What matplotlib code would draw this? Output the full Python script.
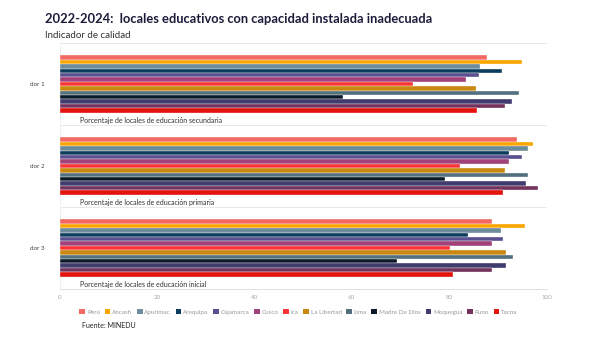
import matplotlib
matplotlib.use("Agg")
import matplotlib.pyplot as plt
from matplotlib.patches import Patch
import numpy as np

plt.rcParams['font.family'] = ['Lato', 'DejaVu Sans']

regions = ["Perú", "Ancash", "Apurimac", "Arequipa", "Cajamarca", "Cusco", "Ica",
           "La Libertad", "Lima", "Madre De Dios", "Moquegua", "Puno", "Tacna"]
colors = ["#F26A63", "#F9A602", "#6C8C9B", "#0C3D5E", "#5A4F91", "#A2427B", "#FA3434",
          "#C9880F", "#53707F", "#0B1A29", "#413C6E", "#74325C", "#E3130D"]
categories = ["Indicador 1", "Indicador 2", "Indicador 3"]
cat_labels = ["dor 1", "dor 2", "dor 3"]
subtitles = ["Porcentaje de locales de educación secundaria",
             "Porcentaje de locales de educación primaria",
             "Porcentaje de locales de educación inicial"]

ind1 = [87.8, 94.9, 86.4, 90.8, 86.2, 83.5, 72.6, 85.6, 94.4, 58.3, 92.9, 91.5, 85.7]
ind2 = [94.0, 97.3, 96.1, 92.2, 95.0, 92.3, 82.2, 91.5, 96.1, 79.1, 95.8, 98.2, 91.1]
ind3 = [88.9, 95.6, 90.6, 83.8, 91.1, 88.9, 80.1, 91.7, 93.2, 69.4, 91.6, 88.9, 80.8]
values = np.array([ind1, ind2, ind3])  # shape (cat, region)

fig = plt.figure(figsize=(6.0, 3.38), dpi=100)
W, H = 600, 338
x0, x1 = 59.5, 546.5
ytop, ybot = 43, 289
ax = fig.add_axes([x0 / W, 1 - ybot / H, (x1 - x0) / W, (ybot - ytop) / H])

n = len(regions)
group_w = 0.70
bw = group_w / n
for j in range(n):
    ys = np.arange(len(categories)) - group_w / 2 + bw * (j + 0.5)
    ax.barh(ys, values[:, j], height=bw, color=colors[j], edgecolor='white',
            linewidth=0.25, label=regions[j], zorder=3)

ax.set_ylim(2.5, -0.5)
ax.set_xlim(0, 100)
ax.set_yticks(range(len(categories)))
ax.set_yticklabels(cat_labels, fontsize=4.5, color='#444444')
ax.set_xticks([0, 20, 40, 60, 80, 100])
ax.set_xticklabels(["0", "20", "40", "60", "80", "100"], fontsize=4.5, color='#aaaaaa')
ax.tick_params(axis='x', length=0, pad=4)
ax.tick_params(axis='y', length=0, pad=11)

for b in [-0.5, 0.5, 1.5]:
    ax.axhline(b, color='#e8e8e8', linewidth=0.7, zorder=1)
for s in ['top', 'right']:
    ax.spines[s].set_visible(False)
ax.spines['bottom'].set_color('#e0e0e0')
ax.spines['bottom'].set_linewidth(0.7)
ax.spines['left'].set_color('#f0f0f0')
ax.spines['left'].set_linewidth(0.7)

for i, t in enumerate(subtitles):
    ax.text(4.2, i + 0.44, t, fontsize=5, color='#333333', va='center', ha='left')

fig.text(45 / W, 1 - 19 / H, "2022-2024:  locales educativos con capacidad instalada inadecuada",
         fontsize=9.3, fontweight='bold', color='#1b1b3a', va='center', ha='left')
fig.text(45 / W, 1 - 35 / H, "Indicador de calidad", fontsize=7, color='#333333',
         va='center', ha='left')

handles = [Patch(facecolor=c, edgecolor='none') for c in colors]
fig.legend(handles, regions, loc='center', bbox_to_anchor=(298.5 / W, 1 - 312 / H),
           ncol=n, fontsize=4.5, frameon=False, handlelength=0.9, handleheight=0.9,
           handletextpad=0.3, columnspacing=0.75, labelcolor='#999999')

fig.text(82 / W, 1 - 325 / H, "Fuente: MINEDU", fontsize=5, color='#222222',
         va='center', ha='left')

fig.savefig("out.png", dpi=100)
